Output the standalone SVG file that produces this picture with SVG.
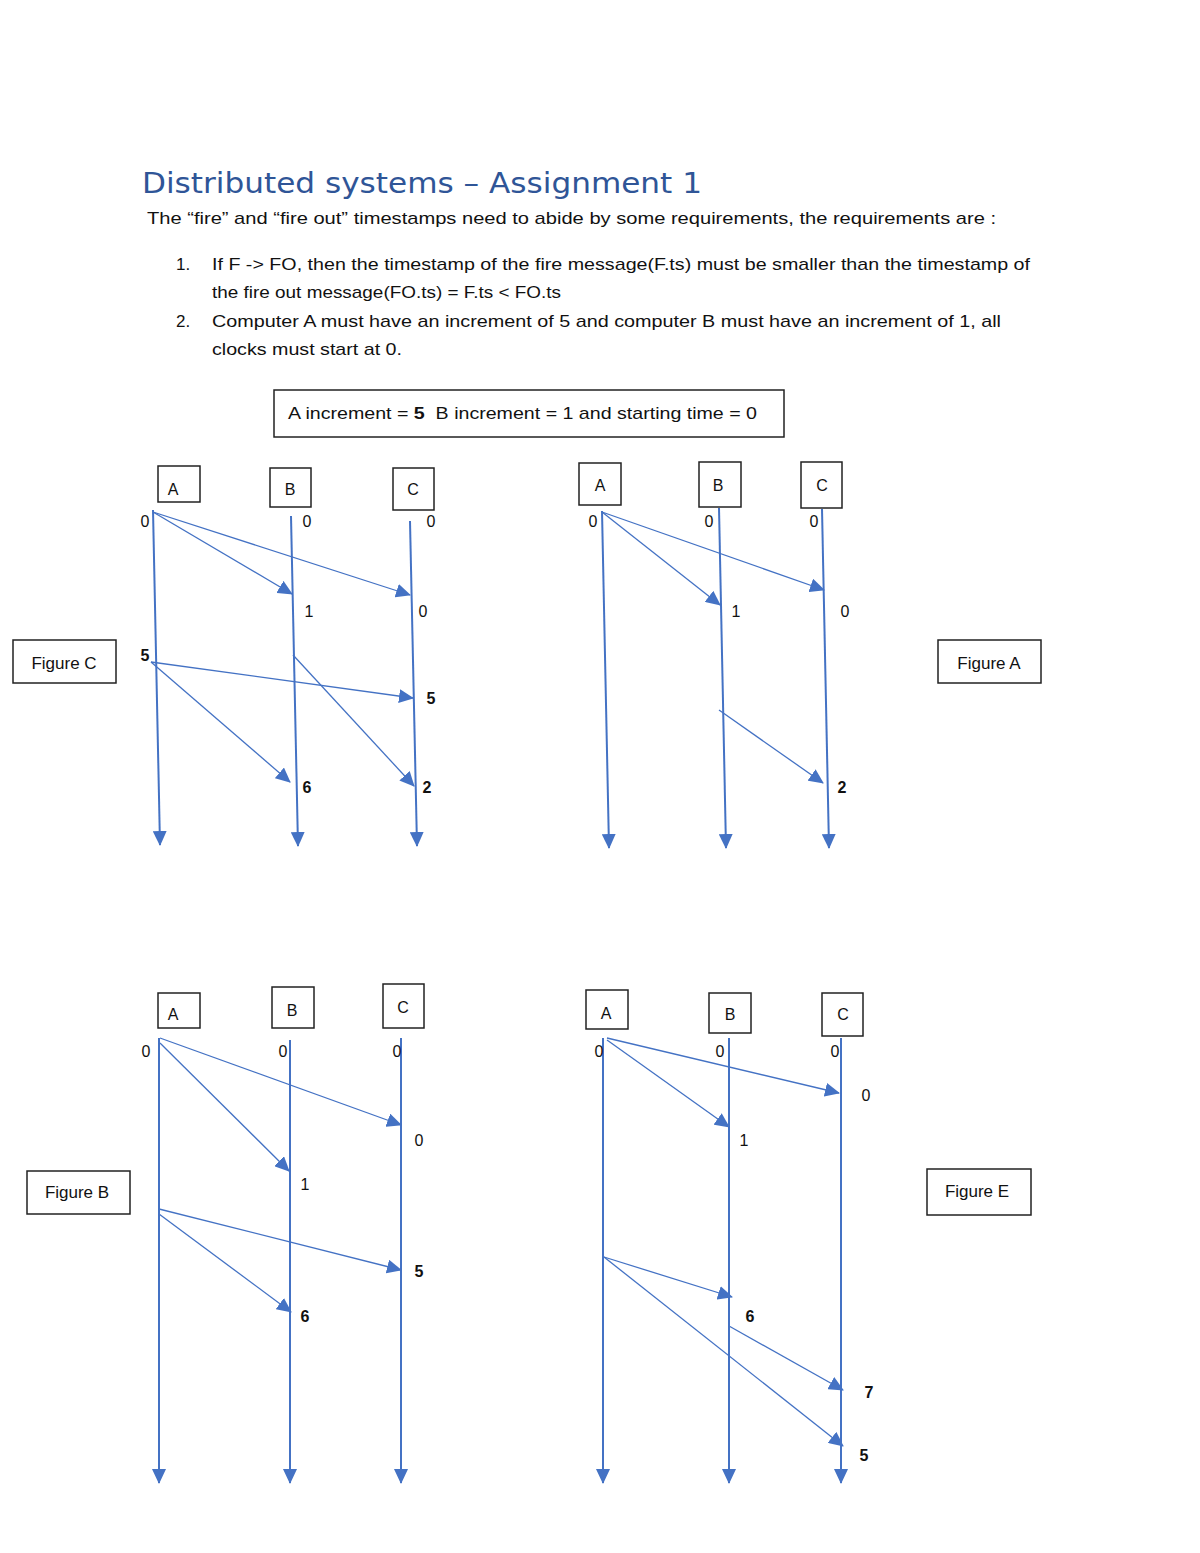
<svg xmlns="http://www.w3.org/2000/svg" width="1200" height="1553" viewBox="0 0 1200 1553">
<style>
.bg{fill:#fff}
.title{font-family:"DejaVu Sans",sans-serif;font-size:29px;fill:#2F5597}
.body{font-family:"Liberation Sans",Arial,sans-serif;font-size:17px;fill:#111}
.box{fill:#fff;stroke:#222;stroke-width:1.5}
.bl{font-family:"Liberation Sans",Arial,sans-serif;font-size:16px;fill:#111;text-anchor:middle}
.fl{font-family:"Liberation Sans",Arial,sans-serif;font-size:17px;fill:#111;text-anchor:middle}
.n{font-family:"Liberation Sans",Arial,sans-serif;font-size:16px;fill:#111;text-anchor:middle}
.nb{font-weight:bold}
.life{stroke:#4472C4;stroke-width:2;fill:none;marker-end:url(#ah)}
.msg{stroke:#4472C4;stroke-width:1.3;fill:none;marker-end:url(#ah)}
</style>
<defs>
<marker id="ah" markerUnits="userSpaceOnUse" markerWidth="15" markerHeight="14" refX="14" refY="7" orient="auto" viewBox="0 0 15 14"><path d="M0,0 L15,7 L0,14 z" fill="#4472C4"/></marker>
</defs>
<rect class="bg" x="0" y="0" width="1200" height="1553"/>

<g id="header">
<text class="title" x="142" y="193" textLength="560" lengthAdjust="spacingAndGlyphs">Distributed systems – Assignment 1</text>
<text class="body" x="147" y="224" textLength="849" lengthAdjust="spacingAndGlyphs">The “fire” and “fire out” timestamps need to abide by some requirements, the requirements are :</text>
<text class="body" x="176" y="270">1.</text>
<text class="body" x="212" y="270" textLength="818" lengthAdjust="spacingAndGlyphs">If F -&gt; FO, then the timestamp of the fire message(F.ts) must be smaller than the timestamp of</text>
<text class="body" x="212" y="298" textLength="349" lengthAdjust="spacingAndGlyphs">the fire out message(FO.ts) = F.ts &lt; FO.ts</text>
<text class="body" x="176" y="327">2.</text>
<text class="body" x="212" y="327" textLength="789" lengthAdjust="spacingAndGlyphs">Computer A must have an increment of 5 and computer B must have an increment of 1, all</text>
<text class="body" x="212" y="355" textLength="190" lengthAdjust="spacingAndGlyphs">clocks must start at 0.</text>
</g>

<g id="info-box">
<rect class="box" x="274" y="390" width="510" height="47"/>
<text class="body" x="288" y="419" textLength="469" lengthAdjust="spacingAndGlyphs">A increment = <tspan font-weight="bold">5</tspan>&#160; B increment = 1 and starting time = 0</text>
</g>

<!-- Figure C -->
<g id="figC-label"><rect class="box" x="13" y="640" width="103" height="43"/><text class="fl" x="64" y="669">Figure C</text></g>
<g id="figC-A"><rect class="box" x="158" y="466" width="42" height="36"/><text class="bl" x="173" y="495">A</text></g>
<g id="figC-B"><rect class="box" x="270" y="468" width="41" height="39"/><text class="bl" x="290" y="495">B</text></g>
<g id="figC-C"><rect class="box" x="393" y="468" width="41" height="42"/><text class="bl" x="413" y="495">C</text></g>

<!-- Figure A -->
<g id="figA-label"><rect class="box" x="938" y="640" width="103" height="43"/><text class="fl" x="989" y="669">Figure A</text></g>
<g id="figA-A"><rect class="box" x="579" y="463" width="42" height="42"/><text class="bl" x="600" y="491">A</text></g>
<g id="figA-B"><rect class="box" x="699" y="462" width="42" height="45"/><text class="bl" x="718" y="491">B</text></g>
<g id="figA-C"><rect class="box" x="801" y="462" width="41" height="46"/><text class="bl" x="822" y="491">C</text></g>

<!-- Figure B -->
<g id="figB-label"><rect class="box" x="27" y="1171" width="103" height="43"/><text class="fl" x="77" y="1198">Figure B</text></g>
<g id="figB-A"><rect class="box" x="158" y="993" width="42" height="35"/><text class="bl" x="173" y="1020">A</text></g>
<g id="figB-B"><rect class="box" x="272" y="987" width="42" height="41"/><text class="bl" x="292" y="1016">B</text></g>
<g id="figB-C"><rect class="box" x="383" y="984" width="41" height="44"/><text class="bl" x="403" y="1013">C</text></g>

<!-- Figure E -->
<g id="figE-label"><rect class="box" x="927" y="1169" width="104" height="46"/><text class="fl" x="977" y="1197">Figure E</text></g>
<g id="figE-A"><rect class="box" x="586" y="990" width="42" height="39"/><text class="bl" x="606" y="1019">A</text></g>
<g id="figE-B"><rect class="box" x="709" y="993" width="42" height="40"/><text class="bl" x="730" y="1020">B</text></g>
<g id="figE-C"><rect class="box" x="822" y="993" width="41" height="43"/><text class="bl" x="843" y="1020">C</text></g>

<g id="connectors">
<!-- Figure C -->
<path class="life" d="M153,510 L160,845"/>
<path class="life" d="M291,516 L298,846"/>
<path class="life" d="M410,521 L417,846"/>
<path class="msg" d="M153,512 L292,594"/>
<path class="msg" d="M153,512 L410,595"/>
<path class="msg" d="M151,662 L413,698"/>
<path class="msg" d="M151,662 L290,782"/>
<path class="msg" d="M293,655 L414,786"/>
<!-- Figure A -->
<path class="life" d="M602,511 L609,848"/>
<path class="life" d="M719,508 L726,848"/>
<path class="life" d="M822,509 L829,848"/>
<path class="msg" d="M602,512 L720,605"/>
<path class="msg" d="M602,512 L824,590"/>
<path class="msg" d="M719,710 L823,783"/>
<!-- Figure B -->
<path class="life" d="M159,1038 L159,1483"/>
<path class="life" d="M290,1040 L290,1483"/>
<path class="life" d="M401,1038 L401,1483"/>
<path class="msg" d="M160,1038 L401,1125"/>
<path class="msg" d="M160,1043 L289,1171"/>
<path class="msg" d="M159,1209 L401,1270"/>
<path class="msg" d="M159,1214 L291,1312"/>
<!-- Figure E -->
<path class="life" d="M603,1038 L603,1483"/>
<path class="life" d="M729,1038 L729,1483"/>
<path class="life" d="M841,1038 L841,1483"/>
<path class="msg" d="M607,1038 L839,1093"/>
<path class="msg" d="M607,1040 L729,1127"/>
<path class="msg" d="M604,1257 L732,1297"/>
<path class="msg" d="M604,1257 L843,1446"/>
<path class="msg" d="M729,1326 L843,1390"/>
</g>

<g id="timestamps">
<text class="n" x="145" y="527">0</text>
<text class="n" x="307" y="527">0</text>
<text class="n" x="431" y="527">0</text>
<text class="n" x="309" y="617">1</text>
<text class="n" x="423" y="617">0</text>
<text class="n nb" x="145" y="661">5</text>
<text class="n nb" x="431" y="704">5</text>
<text class="n nb" x="307" y="793">6</text>
<text class="n nb" x="427" y="793">2</text>

<text class="n" x="593" y="527">0</text>
<text class="n" x="709" y="527">0</text>
<text class="n" x="814" y="527">0</text>
<text class="n" x="736" y="617">1</text>
<text class="n" x="845" y="617">0</text>
<text class="n nb" x="842" y="793">2</text>

<text class="n" x="146" y="1057">0</text>
<text class="n" x="283" y="1057">0</text>
<text class="n" x="397" y="1057">0</text>
<text class="n" x="419" y="1146">0</text>
<text class="n" x="305" y="1190">1</text>
<text class="n nb" x="419" y="1277">5</text>
<text class="n nb" x="305" y="1322">6</text>

<text class="n" x="599" y="1057">0</text>
<text class="n" x="720" y="1057">0</text>
<text class="n" x="835" y="1057">0</text>
<text class="n" x="866" y="1101">0</text>
<text class="n" x="744" y="1146">1</text>
<text class="n nb" x="750" y="1322">6</text>
<text class="n nb" x="869" y="1398">7</text>
<text class="n nb" x="864" y="1461">5</text>
</g>
</svg>
